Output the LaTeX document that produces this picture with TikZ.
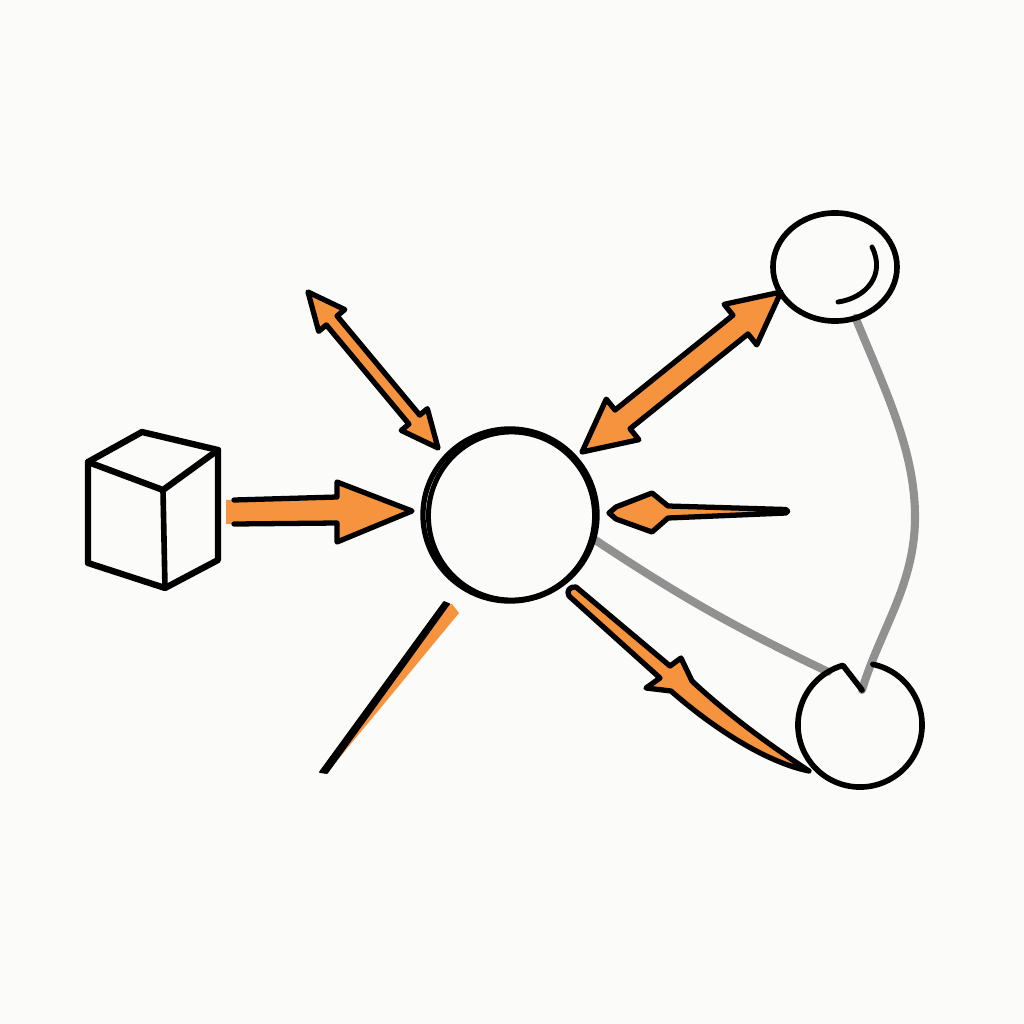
\documentclass[tikz,border=0pt]{standalone}
\usetikzlibrary{calc,shapes.geometric}
\definecolor{bg}{RGB}{251,251,250}
\definecolor{aorange}{RGB}{245,147,62}
\definecolor{lgray}{RGB}{145,145,145}
\tikzset{
 ink/.style={draw=black, line width=1.6pt, line cap=round, line join=round},
 blockarrow/.style={fill=aorange, draw=black, line width=1.5pt, line join=round},
 grayline/.style={draw=lgray, line width=2.3pt, line cap=round},
 hubnode/.style={circle, minimum size=1.74cm, inner sep=0pt, outer sep=0pt},
}
\newcommand\dblblock[5]{%
  \coordinate (dbA) at ($(#1)!#3!(#2)$);
  \coordinate (dbB) at ($(#2)!#3!(#1)$);
  \filldraw[blockarrow] (#1) -- ($(dbA)!#5!90:(#2)$) -- ($(dbA)!#4!90:(#2)$)
    -- ($(dbB)!#4!-90:(#1)$) -- ($(dbB)!#5!-90:(#1)$) -- (#2)
    -- ($(dbB)!#5!90:(#1)$) -- ($(dbB)!#4!90:(#1)$)
    -- ($(dbA)!#4!-90:(#2)$) -- ($(dbA)!#5!-90:(#2)$) -- cycle;
}
\begin{document}
\begin{tikzpicture}[x=0.01cm,y=-0.01cm]
\fill[bg] (0,0) rectangle (1024,1024);
\useasboundingbox (0,0) rectangle (1024,1024);

% nodes
\node[hubnode] (hub) at (510,515) {};
\node[ellipse, minimum width=1.24cm, minimum height=1.08cm, inner sep=0pt, outer sep=0pt] (top) at (835,267) {};
\node[circle, minimum size=1.24cm, inner sep=0pt, outer sep=0pt] (bot) at (860,725) {};
\coordinate (vtip) at (862,690);

% gray connectors
\draw[grayline] (hub.-16) to[bend right=4] (bot.121);
\draw[grayline] (top.-68) .. controls (885,390) and (915,450) .. (915,517)
  .. controls (915,585) and (880,630) .. (vtip);

% cube
\coordinate (k1) at (88,462);
\coordinate (k2) at (142,432);
\coordinate (k3) at (218,450);
\coordinate (k4) at (163,490);
\coordinate (k5) at (165,588);
\coordinate (k6) at (88,563);
\coordinate (k7) at (218,560);
\draw[ink, line width=1.8pt] (k1) -- (k2) -- (k3) -- (k7) -- (k5) -- (k6) -- cycle;
\draw[ink, line width=1.8pt] (k1) -- (k4) -- (k3);
\draw[ink, line width=1.6pt] (k4) -- (k5);

% arrow cube -> hub
\coordinate (aT) at (412,511);
\fill[aorange] (226,500) -- (337,497) -- (337,482) -- (aT) -- (337,542) -- (337,523) -- (226,524) -- cycle;
\draw[ink, line width=1.5pt] (234,500) -- (337,497) -- (337,482) -- (aT) -- (337,542) -- (337,523) -- (234,524);

% double arrows
\coordinate (bA) at (308,292);
\coordinate (bB) at (438,448);
\dblblock{bA}{bB}{0.37cm}{0.07cm}{0.17cm}
\coordinate (cA) at (582,452);
\coordinate (cB) at (781,292);
\dblblock{cA}{cB}{0.52cm}{0.12cm}{0.26cm}

% small right arrow
\coordinate (dT) at (609,513);
\filldraw[blockarrow] (dT) -- (616,507) -- (652,493) -- (668,506) -- (786,509.5)
  to[out=0,in=0,looseness=1.6] (786,513) -- (668,518) -- (652,532) -- (616,519) -- cycle;

% curved arrow to bottom circle
\filldraw[blockarrow] (576,587) -- (670,666) -- (681,658) -- (692,681)
  .. controls (725,712) and (765,742) .. (809,771)
  .. controls (765,762) and (712,727) .. (671,691)
  -- (646,688) -- (660,678) -- (569,596)
  .. controls (566,591) and (570,586) .. (576,587) -- cycle;

% lower-left wedge
\fill[aorange] (322,773) -- (445,603) -- (452,604) -- (459,613) -- (326,774) -- cycle;
\filldraw[black, line width=0.5pt, line join=round] (320,772) -- (444,602) -- (449,604) -- (327,773) -- cycle;

% hub circle (double hand-drawn outline)
\draw[ink, line width=1.5pt] (hub.center) ellipse[x radius=0.87cm, y radius=0.86cm];
\draw[ink, line width=1.4pt] ([shift={(1.5,1)}]hub.center) ellipse[x radius=0.83cm, y radius=0.84cm];

% top circle
\draw[ink] (top.center) ellipse[x radius=0.62cm, y radius=0.54cm];
\draw[ink, line width=1.4pt] (872,247) .. controls (886,275) and (866,298) .. (838,302);

% bottom circle with notch
\draw[ink] (bot.78) arc[start angle=78, end angle=-254, radius=0.62cm] -- (vtip);
\end{tikzpicture}
\end{document}
